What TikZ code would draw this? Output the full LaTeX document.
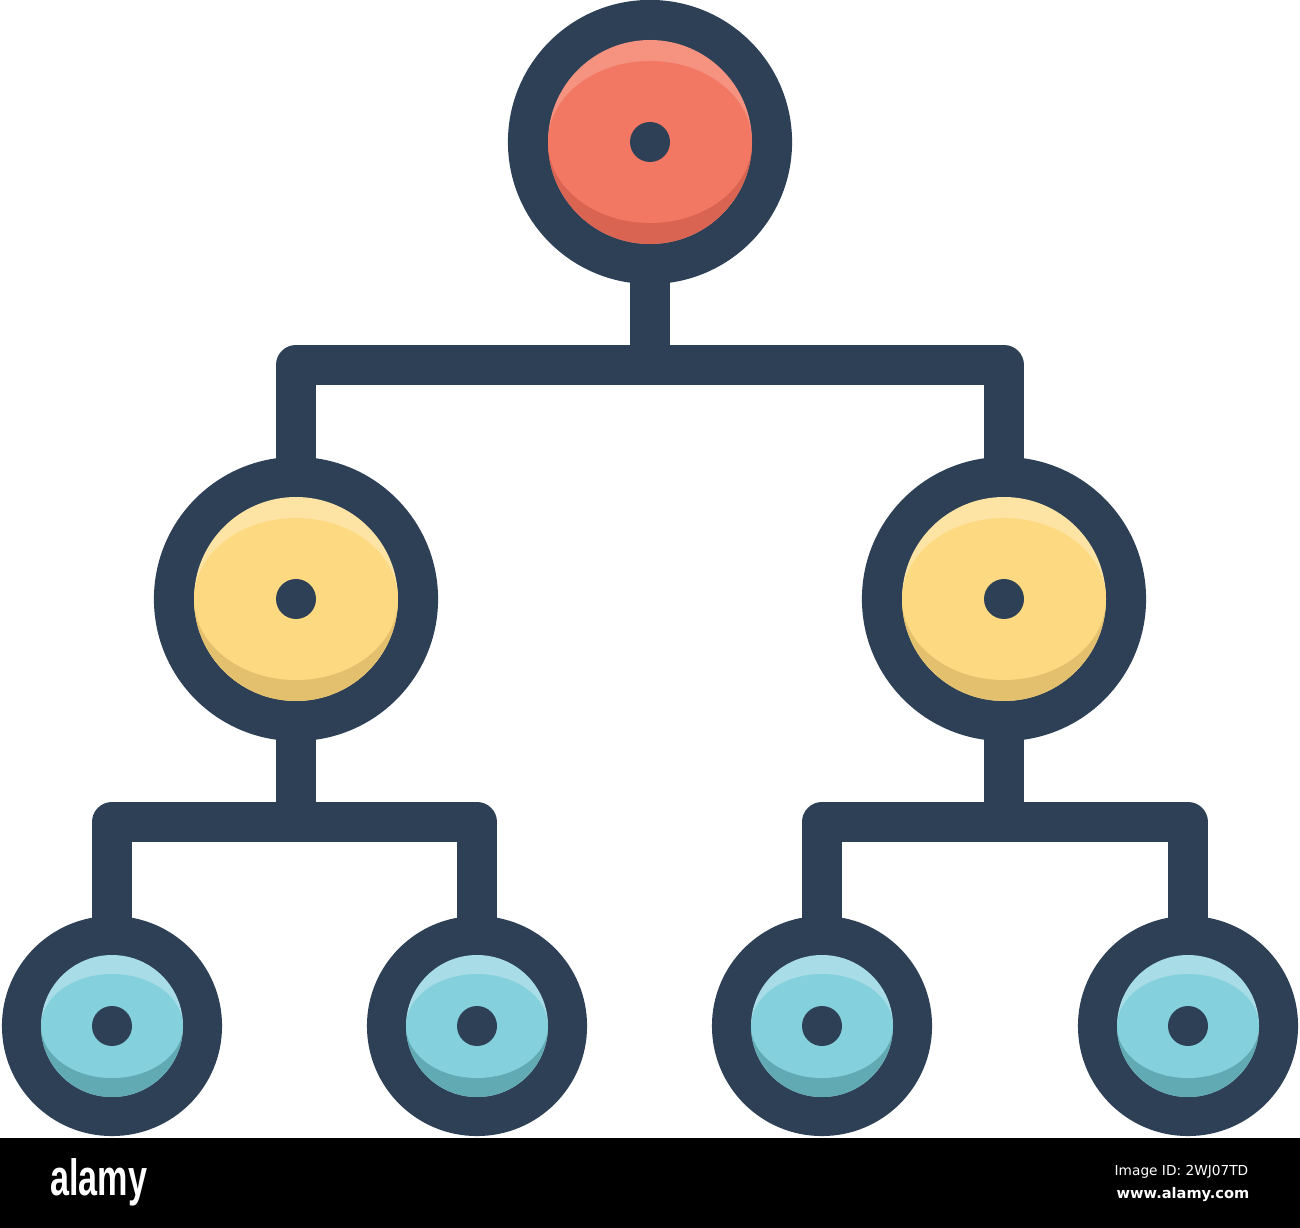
\documentclass[tikz,border=0pt]{standalone}
\usepackage{fontspec}
\newfontfamily\libsans{Liberation Sans}
\newfontfamily\dvsans{DejaVu Sans}
\definecolor{navy}{RGB}{45,64,86}
\definecolor{redL}{RGB}{245,146,128}
\definecolor{redM}{RGB}{242,120,99}
\definecolor{redD}{RGB}{218,100,82}
\definecolor{yelL}{RGB}{253,227,164}
\definecolor{yelM}{RGB}{253,218,129}
\definecolor{yelD}{RGB}{226,192,109}
\definecolor{bluL}{RGB}{168,221,231}
\definecolor{bluM}{RGB}{132,208,220}
\definecolor{bluD}{RGB}{98,170,179}
\tikzset{
  hub/.style={circle, fill=navy, draw=none, inner sep=0pt},
  bighub/.style={hub, minimum size=2.84cm},
  smallhub/.style={hub, minimum size=2.2cm},
  conn/.style={draw=navy, line width=0.4cm, line join=round},
  pics/disc/.style n args={3}{code={
    \fill[#3L] (0,0) circle[radius=#1];
    \begin{scope}
      \clip (0,0) circle[radius=#1];
      \fill[#3D] (-#1,0) rectangle (#1,#1);
    \end{scope}
    \fill[#3M] (0,0) ellipse[x radius=#1, y radius=#2];
    \fill[navy] (0,0) circle[radius=20];
  }},
  bannertext/.style={text=white, inner sep=0pt}
}
\begin{document}
\begin{tikzpicture}[x=0.01cm, y=-0.01cm]
\useasboundingbox (0,0) rectangle (1300,1228);
\fill[white] (0,0) rectangle (1300,1138);
\fill[black] (0,1138) rectangle (1300,1228);

% hub positions
\path (650,142) coordinate (ptop)
      (296,599) coordinate (pm1)
      (1004,599) coordinate (pm2)
      (112,1026) coordinate (pb1)
      (477,1026) coordinate (pb2)
      (822,1026) coordinate (pb3)
      (1188,1026) coordinate (pb4);

% junction coordinates
\coordinate (j1) at (650,365);
\coordinate (j2) at (296,822);
\coordinate (j3) at (1004,822);

% connectors
\draw[conn] (ptop) -- (j1);
\draw[conn] (pm1) |- (j1) -| (pm2);
\draw[conn] (pm1) -- (j2);
\draw[conn] (pb1) |- (j2) -| (pb2);
\draw[conn] (pm2) -- (j3);
\draw[conn] (pb3) |- (j3) -| (pb4);

% hubs
\node[bighub] (top) at (ptop) {};
\node[bighub] (m1) at (pm1) {};
\node[bighub] (m2) at (pm2) {};
\node[smallhub] (b1) at (pb1) {};
\node[smallhub] (b2) at (pb2) {};
\node[smallhub] (b3) at (pb3) {};
\node[smallhub] (b4) at (pb4) {};

% inner discs
\pic at (top) {disc={102}{81}{red}};
\pic at (m1) {disc={102}{81}{yel}};
\pic at (m2) {disc={102}{81}{yel}};
\pic at (b1) {disc={71}{52}{blu}};
\pic at (b2) {disc={71}{52}{blu}};
\pic at (b3) {disc={71}{52}{blu}};
\pic at (b4) {disc={71}{52}{blu}};

% banner
\node[bannertext, anchor=base west, font=\libsans\bfseries\fontsize{14.5}{15}\selectfont, xscale=0.67] (logo) at (50,1195) {alamy};
\node[bannertext, anchor=base east, font=\dvsans\fontsize{3.9}{4.5}\selectfont] (imgid) at (1249,1175) {Image ID: 2WJ07TD};
\node[bannertext, anchor=base east, font=\dvsans\bfseries\fontsize{4.15}{5}\selectfont] (url) at (1250,1198) {www.alamy.com};
\end{tikzpicture}
\end{document}
